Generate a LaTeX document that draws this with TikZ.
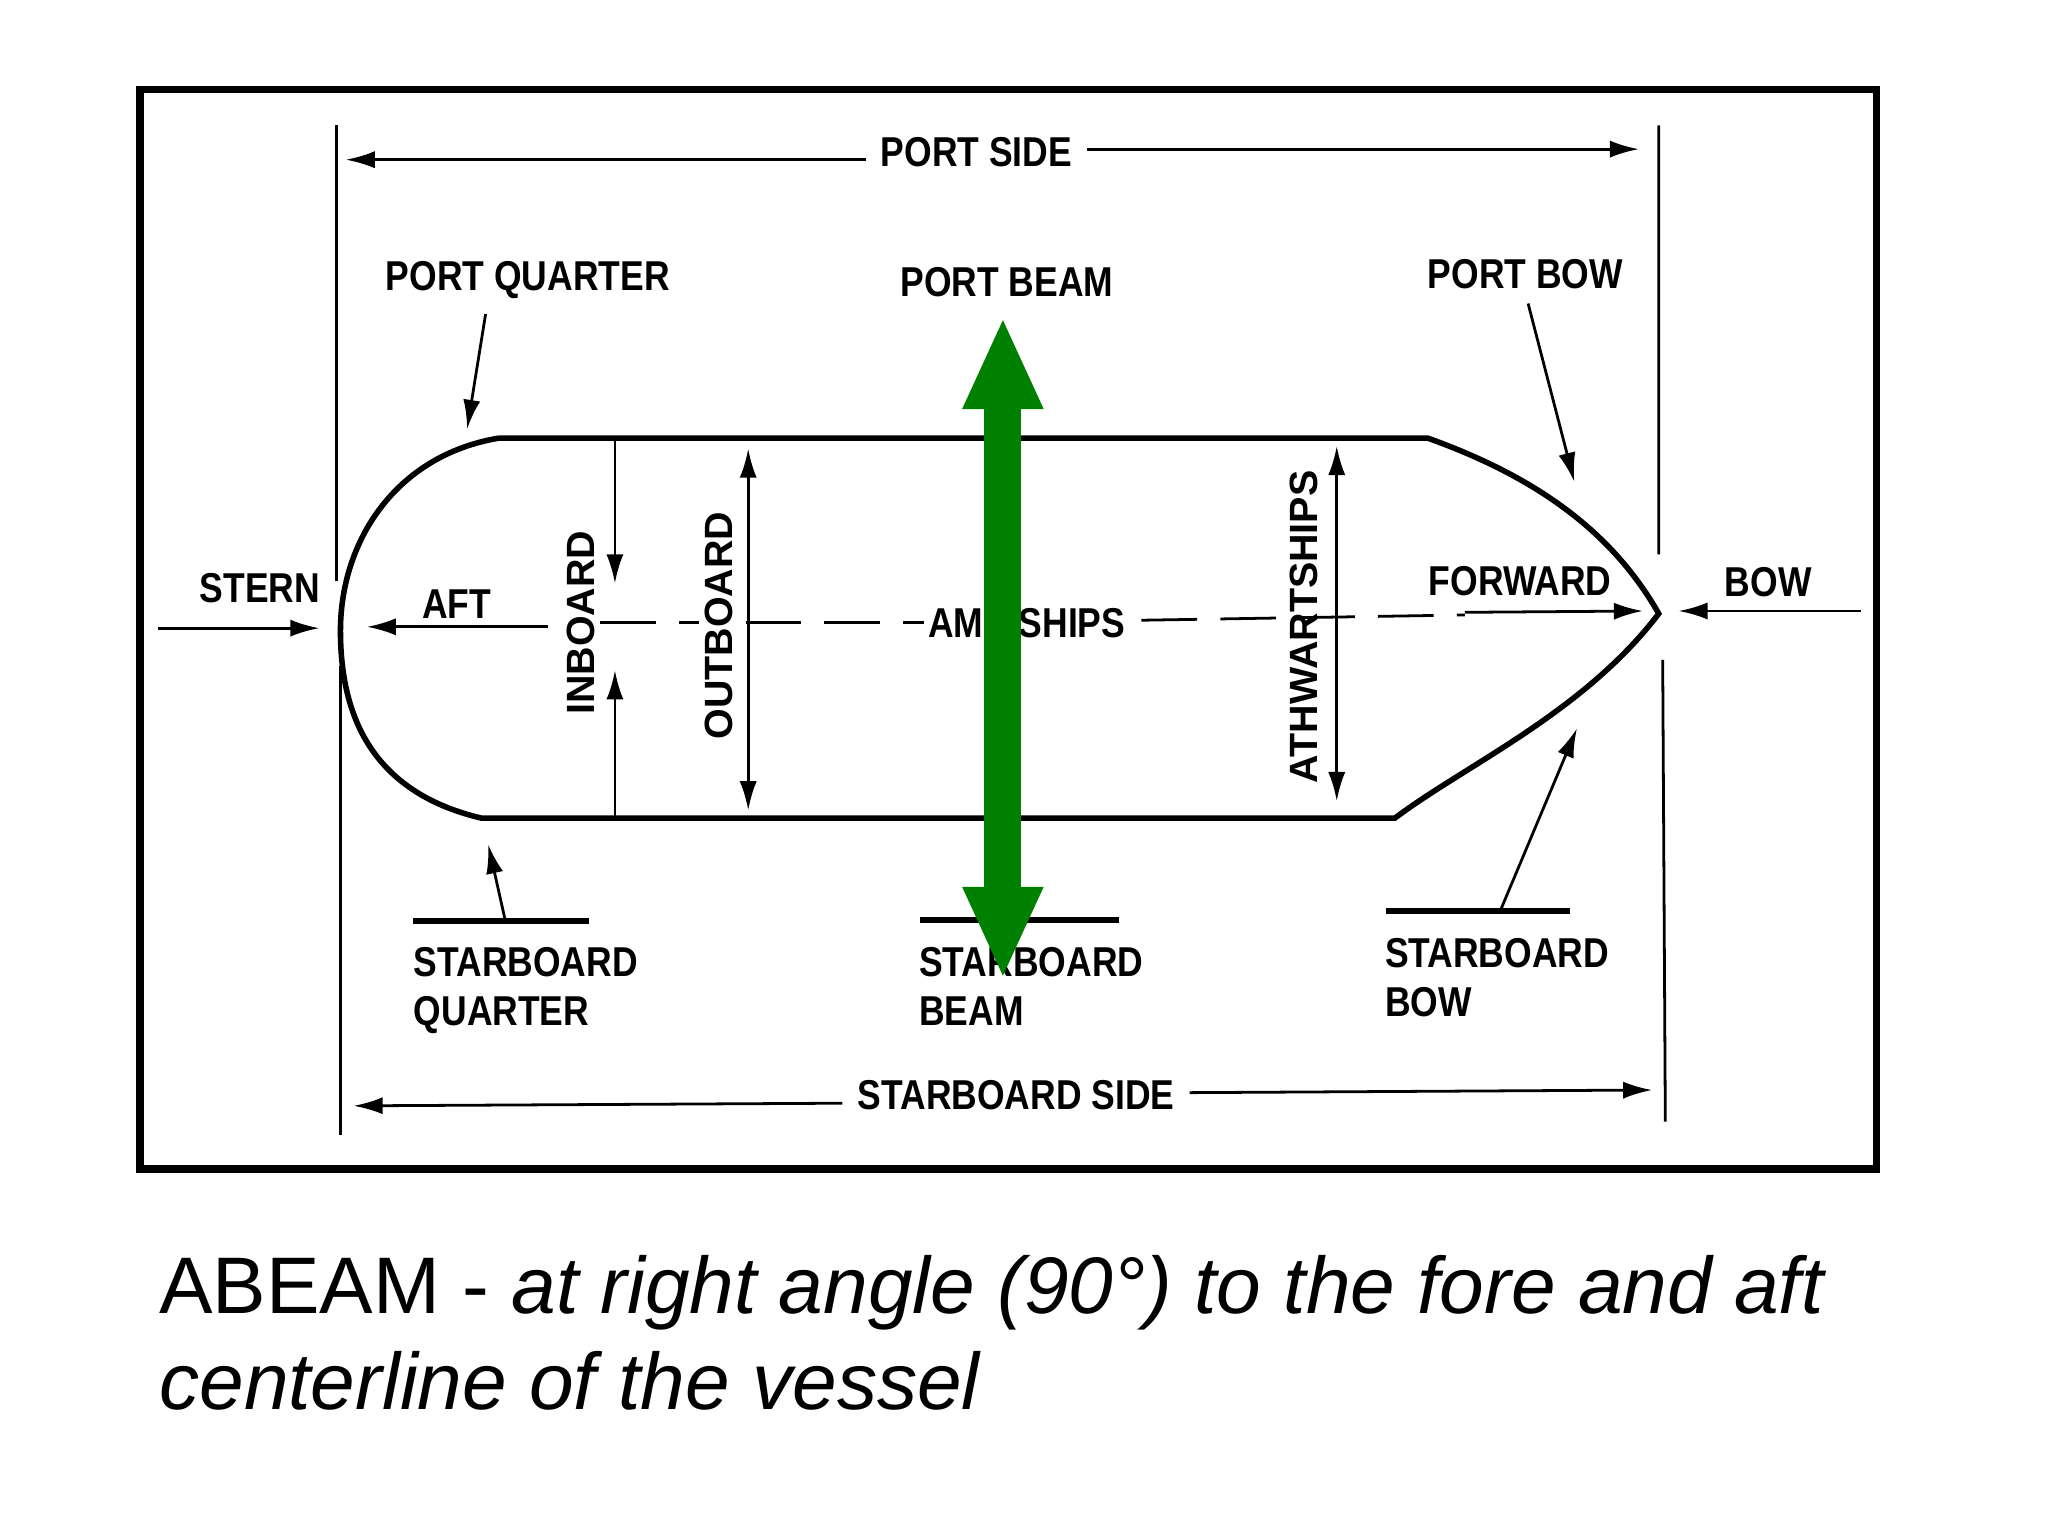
\documentclass[tikz,border=0pt]{standalone}
\usepackage{fontspec}
\setmainfont{Liberation Sans}
\usetikzlibrary{arrows.meta}
\begin{document}
\begin{tikzpicture}[x=0.1mm,y=-0.1mm,
  lbl/.style={font=\bfseries\fontsize{9}{10.5}\selectfont,xscale=0.85,inner sep=1pt},
  rlbl/.style={font=\bfseries\fontsize{8.5}{10}\selectfont,inner sep=1pt,fill=white},
  thin/.style={line width=0.6pt},
  arr/.style={thin,-{Latex[length=2.2mm,width=1.3mm]}},
  hull/.style={line width=1.2pt}]
\useasboundingbox (0,0) rectangle (1552,1164);
\draw[line width=1.6pt] (106,68) rectangle (1422,886);
% side lines
\draw[thin] (255,95) -- (255,440) (258,505) -- (258,860);
\draw[thin] (1257,95) -- (1257,420) (1260,500) -- (1262,850);
% side labels
\node[lbl] (ps) at (740,115) {PORT SIDE};
\coordinate (psl) at (262,121); \coordinate (psr) at (1242,113);
\draw[arr] (ps.west) ++(-8,6) -- (psl);
\draw[arr] (ps.east) ++(8,-2) -- (psr);
\node[lbl] (ss) at (770,830) {STARBOARD SIDE};
\coordinate (ssl) at (268,838); \coordinate (ssr) at (1252,826);
\draw[arr] (ss.west) ++(-8,6) -- (ssl);
\draw[arr] (ss.east) ++(8,-2) -- (ssr);
% hull
\coordinate (h1) at (378,332); \coordinate (h2) at (1082,332);
\coordinate (h3) at (1257,465); \coordinate (h4) at (1057,620);
\coordinate (h5) at (365,620);
\draw[hull] (h1) -- (h2) .. controls (1160,360) and (1220,400) .. (h3)
  .. controls (1200,540) and (1110,580) .. (h4) -- (h5)
  .. controls (280,600) and (258,540) .. (258,478)
  .. controls (258,410) and (300,345) .. (h1);
% centerline
\draw[thin,dash pattern=on 12pt off 5pt] (455,472) -- (530,472);
\draw[thin,dash pattern=on 12pt off 5pt] (565,472) -- (700,472);
\draw[thin,dash pattern=on 12pt off 5pt] (865,470) -- (1110,466);
\draw[arr] (1110,464) -- (1245,463);
\node[lbl] (am) at (778,472) {AMIDSHIPS};
\node[lbl] (fw) at (1152,440) {FORWARD};
\node[lbl] (aft) at (346,458) {AFT};
\coordinate (aftt) at (278,475);
\draw[arr] (415,475) -- (aftt);
\node[lbl] (st) at (197,446) {STERN};
\coordinate (st0) at (120,476); \coordinate (st1) at (242,476);
\draw[arr] (st0) -- (st1);
\node[lbl] (bw) at (1340,441) {BOW};
\coordinate (bw0) at (1410,463); \coordinate (bw1) at (1272,463);
\draw[arr] (bw0) -- (bw1);
% inboard / outboard / athwartships
\draw[arr] (466,332) -- (466,442);
\draw[arr] (466,620) -- (466,508);
\node[rlbl,rotate=90] (ib) at (440,472) {INBOARD};
\draw[arr] (567,470) -- (567,340);
\draw[arr] (567,470) -- (567,614);
\node[rlbl,rotate=90] (ob) at (545,474) {OUTBOARD};
\draw[thin,{Latex[length=2.2mm,width=1.3mm]}-{Latex[length=2.2mm,width=1.3mm]}] (1013,338) -- (1013,607);
\node[rlbl,rotate=90,fill=none] (ath) at (988,475) {ATHWARTSHIPS};
% port labels
\node[lbl] (pq) at (400,212) {PORT QUARTER};
\draw[arr] (368,238) -- (354,325);
\node[lbl] (pb) at (763,214) {PORT BEAM};
\node[lbl] (pbw) at (1156,208) {PORT BOW};
\draw[arr] (1158,230) -- (1193,365);
% starboard labels
\draw[line width=1.3pt] (313,698) -- (446,698);
\node[lbl,align=left,anchor=north west] (sq) at (310,714) {STARBOARD\\QUARTER};
\draw[arr] (383,698) -- (370,640);
\draw[line width=1.3pt] (697,697) -- (848,697);
\node[lbl,align=left,anchor=north west] (sb) at (693,714) {STARBOARD\\BEAM};
\draw[line width=1.3pt] (1050,690) -- (1190,690);
\node[lbl,align=left,anchor=north west] (sbw) at (1046,707) {STARBOARD\\BOW};
\draw[arr] (1137,690) -- (1195,552);
% green arrow
\coordinate (g0) at (760,240); \coordinate (g1) at (760,742);
\draw[green!50!black,line width=8pt,{Triangle[length=7mm,width=5.6mm]}-{Triangle[length=7mm,width=5.6mm]}] (g0) -- (g1);
% caption
\node[anchor=base west,inner sep=0,font=\fontsize{17.3}{21}\selectfont] (cap1) at (120,995) {ABEAM - \itshape at right angle (90°) to the fore and aft};
\node[anchor=base west,inner sep=0,font=\fontsize{17.3}{21}\selectfont\itshape] (cap2) at (120,1068) {centerline of the vessel};
\end{tikzpicture}
\end{document}
